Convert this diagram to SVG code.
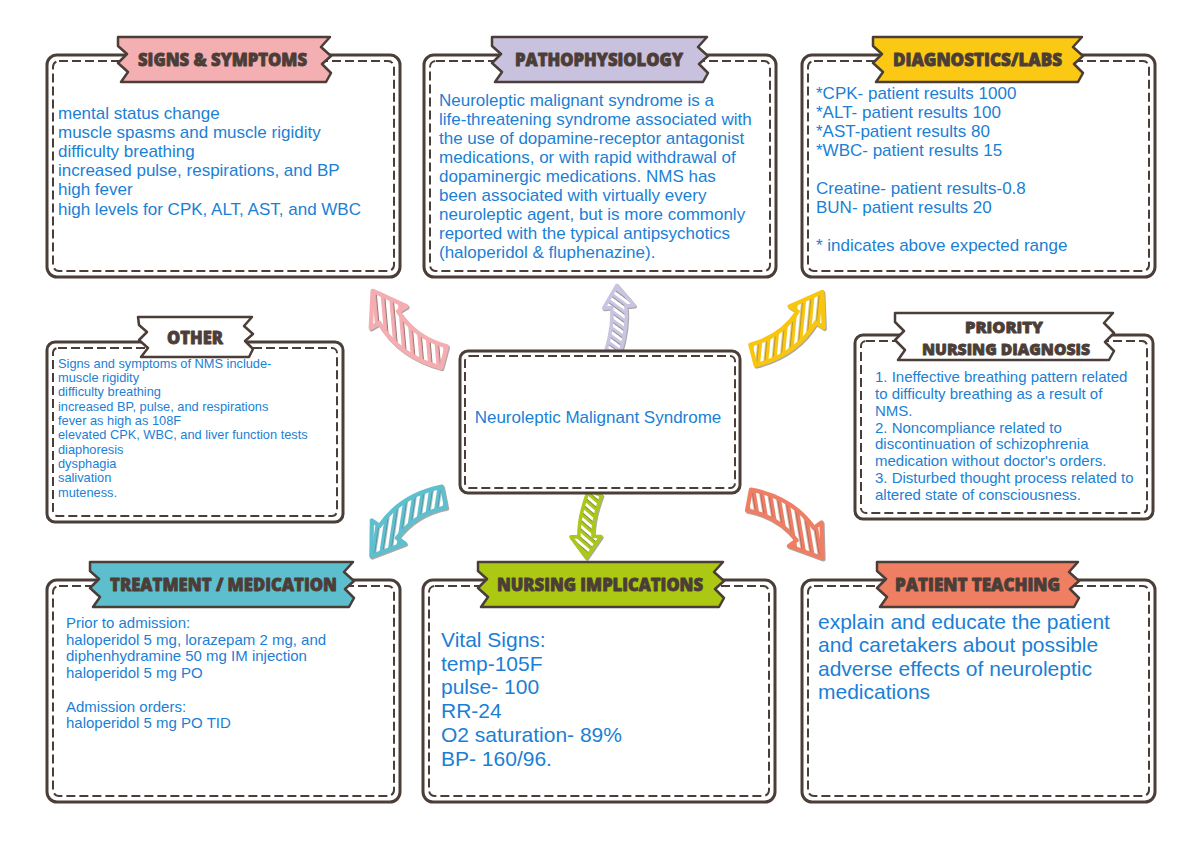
<svg xmlns="http://www.w3.org/2000/svg" xmlns:xlink="http://www.w3.org/1999/xlink" width="1200" height="849" viewBox="0 0 1200 849">
<style>
.bo{fill:#fff;stroke:#4b3d37;stroke-width:3}
.bi{fill:none;stroke:#4b3d37;stroke-width:2;stroke-dasharray:9 4}
.bn{stroke:#4b3d37;stroke-width:2.5;stroke-linejoin:round}
.bt{font-family:"Open Sans",Lato,"Liberation Sans",sans-serif;font-weight:800;font-size:17px;fill:#4b3d37;stroke:#4b3d37;stroke-width:0.8;stroke-linejoin:round}
.bt16{font-size:16px}
.tx{font-family:"Liberation Sans",Arial,sans-serif;fill:#1b7fd5}
.s17{font-size:17px}.s13{font-size:12.8px}.s15{font-size:15px}.s21{font-size:21px}
.sh{fill:#4b3d37;stroke:#4b3d37;stroke-width:4;stroke-linejoin:round;opacity:.45}
.ht{fill:url(#hatch)}
</style>
<defs>
<pattern id="hatch" patternUnits="userSpaceOnUse" width="7.5" height="8" patternTransform="rotate(20)">
<rect x="0" y="0" width="3.4" height="8" fill="#fff"/>
<rect x="3.4" y="0" width="0.9" height="8" fill="#4b3d37" opacity="0.55"/>
</pattern>
<path id="arrA" d="M0,10 Q40,10 64.9,-14.8 L71.1,-8.3 L78.2,-41.3 L44.9,-35.7 L51.1,-29.2 Q30,-10 0,-10 Z"/>
<path id="arrB" d="M0,8 Q32,8 53,-0.6 L56.3,7.8 L72.3,-16.9 L43.7,-23.8 L47,-15.4 Q28,-8 0,-8 Z"/>
</defs>
<rect width="1200" height="849" fill="#fff"/>

<g id="connectors">
<g id="arrow-pink">
<g transform="translate(1,1.3)"><use href="#arrA" class="sh" transform="translate(444,357) rotate(195) scale(1.1,-1.1)"/></g>
<g transform="translate(444,357) rotate(195) scale(1.1,-1.1)"><use href="#arrA" fill="#f4aeb1"/><use href="#arrA" class="ht"/><use href="#arrA" fill="none" stroke="#f4aeb1" stroke-width="4" stroke-linejoin="round"/></g>
</g>
<g id="arrow-lavender">
<g transform="translate(1,1.3)"><use href="#arrB" class="sh" transform="translate(613,352) rotate(-73.5) scale(0.9)"/></g>
<g transform="translate(613,352) rotate(-73.5) scale(0.9)"><use href="#arrB" fill="#c9c4e0"/><use href="#arrB" class="ht"/><use href="#arrB" fill="none" stroke="#c9c4e0" stroke-width="4" stroke-linejoin="round"/></g>
</g>
<g id="arrow-yellow">
<g transform="translate(1,1.3)"><use href="#arrA" class="sh" transform="translate(753,355) rotate(-14.5) scale(1.06)"/></g>
<g transform="translate(753,355) rotate(-14.5) scale(1.06)"><use href="#arrA" fill="#f8c60f"/><use href="#arrA" class="ht"/><use href="#arrA" fill="none" stroke="#f8c60f" stroke-width="4" stroke-linejoin="round"/></g>
</g>
<g id="arrow-teal">
<g transform="translate(1,1.3)"><use href="#arrA" class="sh" transform="translate(444,497) rotate(168.6) scale(1.06)"/></g>
<g transform="translate(444,497) rotate(168.6) scale(1.06)"><use href="#arrA" fill="#5ebfce"/><use href="#arrA" class="ht"/><use href="#arrA" fill="none" stroke="#5ebfce" stroke-width="4" stroke-linejoin="round"/></g>
</g>
<g id="arrow-green">
<g transform="translate(1,1.3)"><use href="#arrB" class="sh" transform="translate(595,493) rotate(110.8) scale(0.88)"/></g>
<g transform="translate(595,493) rotate(110.8) scale(0.88)"><use href="#arrB" fill="#a9c81a"/><use href="#arrB" class="ht"/><use href="#arrB" fill="none" stroke="#a9c81a" stroke-width="4" stroke-linejoin="round"/></g>
</g>
<g id="arrow-salmon">
<g transform="translate(1,1.3)"><use href="#arrA" class="sh" transform="translate(749,500) rotate(10.5) scale(1.06,-1.06)"/></g>
<g transform="translate(749,500) rotate(10.5) scale(1.06,-1.06)"><use href="#arrA" fill="#ee7f64"/><use href="#arrA" class="ht"/><use href="#arrA" fill="none" stroke="#ee7f64" stroke-width="4" stroke-linejoin="round"/></g>
</g>
</g>

<g id="signs-symptoms">
<rect class="bo" x="47" y="55" width="353" height="222" rx="10"/>
<rect class="bi" x="53" y="61" width="341" height="210" rx="6"/>
<path class="bn" fill="#f4afb2" d="M118,37 h212 l-9,10 l10,9 l-9,8 l9,9 l-5,9 h-205 l7,-10 l-10,-9 l9,-9 l-9,-8 z"/>
<text class="bt" x="138" y="66" textLength="169" lengthAdjust="spacingAndGlyphs">SIGNS &amp; SYMPTOMS</text>
<text class="tx s17" x="58" y="118.5"><tspan x="58">mental status change</tspan><tspan x="58" dy="19.2">muscle spasms and muscle rigidity</tspan><tspan x="58" dy="19.2">difficulty breathing</tspan><tspan x="58" dy="19.2">increased pulse, respirations, and BP</tspan><tspan x="58" dy="19.2">high fever</tspan><tspan x="58" dy="19.2">high levels for CPK, ALT, AST, and WBC</tspan></text>
</g>

<g id="pathophysiology">
<rect class="bo" x="424" y="55" width="352" height="222" rx="10"/>
<rect class="bi" x="430" y="61" width="340" height="210" rx="6"/>
<path class="bn" fill="#c8c2de" d="M492,37 h215 l-9,10 l10,9 l-9,8 l9,9 l-5,9 h-208 l7,-10 l-10,-9 l9,-9 l-9,-8 z"/>
<text class="bt" x="515" y="66" textLength="168" lengthAdjust="spacingAndGlyphs">PATHOPHYSIOLOGY</text>
<text class="tx s17" x="439" y="106"><tspan x="439">Neuroleptic malignant syndrome is a</tspan><tspan x="439" dy="19.05">life-threatening syndrome associated with</tspan><tspan x="439" dy="19.05">the use of dopamine-receptor antagonist</tspan><tspan x="439" dy="19.05">medications, or with rapid withdrawal of</tspan><tspan x="439" dy="19.05">dopaminergic medications. NMS has</tspan><tspan x="439" dy="19.05">been associated with virtually every</tspan><tspan x="439" dy="19.05">neuroleptic agent, but is more commonly</tspan><tspan x="439" dy="19.05">reported with the typical antipsychotics</tspan><tspan x="439" dy="19.05">(haloperidol &amp; fluphenazine).</tspan></text>
</g>

<g id="diagnostics-labs">
<rect class="bo" x="802" y="55" width="353" height="222" rx="10"/>
<rect class="bi" x="808" y="61" width="341" height="210" rx="6"/>
<path class="bn" fill="#fbc913" d="M873,37 h209 l-9,10 l10,9 l-9,8 l9,9 l-5,9 h-202 l7,-10 l-10,-9 l9,-9 l-9,-8 z"/>
<text class="bt" x="893" y="66" textLength="169" lengthAdjust="spacingAndGlyphs">DIAGNOSTICS/LABS</text>
<text class="tx s17"><tspan x="816" y="99">*CPK- patient results 1000</tspan><tspan x="816" y="118">*ALT- patient results 100</tspan><tspan x="816" y="137">*AST-patient results 80</tspan><tspan x="816" y="156">*WBC- patient results 15</tspan><tspan x="816" y="194">Creatine- patient results-0.8</tspan><tspan x="816" y="213">BUN- patient results 20</tspan><tspan x="816" y="251">* indicates above expected range</tspan></text>
</g>

<g id="other">
<rect class="bo" x="47" y="342" width="296" height="180" rx="8"/>
<rect class="bi" x="53" y="348" width="284" height="168" rx="5"/>
<path class="bn" fill="#fff" d="M138,317 h114 l-8,9 l9,8 l-8,7 l8,8 l-4,8 h-108 l7,-9 l-9,-8 l8,-8 l-8,-7 z"/>
<text class="bt" x="167" y="344" textLength="56" lengthAdjust="spacingAndGlyphs">OTHER</text>
<text class="tx s13" x="58" y="367.5"><tspan x="58">Signs and symptoms of NMS include-</tspan><tspan x="58" dy="14.35">muscle rigidity</tspan><tspan x="58" dy="14.35">difficulty breathing</tspan><tspan x="58" dy="14.35">increased BP, pulse, and respirations</tspan><tspan x="58" dy="14.35">fever as high as 108F</tspan><tspan x="58" dy="14.35">elevated CPK, WBC, and liver function tests</tspan><tspan x="58" dy="14.35">diaphoresis</tspan><tspan x="58" dy="14.35">dysphagia</tspan><tspan x="58" dy="14.35">salivation</tspan><tspan x="58" dy="14.35">muteness.</tspan></text>
</g>

<g id="center">
<rect class="bo" x="460" y="351" width="280" height="142" rx="8"/>
<rect class="bi" x="465" y="356" width="270" height="132" rx="5"/>
<text class="tx s17" x="598" y="423" text-anchor="middle">Neuroleptic Malignant Syndrome</text>
</g>

<g id="priority-nursing-diagnosis">
<rect class="bo" x="855" y="335" width="298" height="184" rx="8"/>
<rect class="bi" x="861" y="341" width="286" height="172" rx="5"/>
<path class="bn" fill="#fff" d="M895,313 h218 l-9,10 l10,10 l-9,9 l9,9 l-5,9 h-211 l7,-10 l-10,-10 l9,-9 l-9,-9 z"/>
<text class="bt bt16" x="965" y="332.5" textLength="78" lengthAdjust="spacingAndGlyphs">PRIORITY</text>
<text class="bt bt16" x="922" y="355" textLength="168" lengthAdjust="spacingAndGlyphs">NURSING DIAGNOSIS</text>
<text class="tx s15" x="875" y="382"><tspan x="875">1. Ineffective breathing pattern related</tspan><tspan x="875" dy="16.85">to difficulty breathing as a result of</tspan><tspan x="875" dy="16.85">NMS.</tspan><tspan x="875" dy="16.85">2. Noncompliance related to</tspan><tspan x="875" dy="16.85">discontinuation of schizophrenia</tspan><tspan x="875" dy="16.85">medication without doctor's orders.</tspan><tspan x="875" dy="16.85">3. Disturbed thought process related to</tspan><tspan x="875" dy="16.85">altered state of consciousness.</tspan></text>
</g>

<g id="treatment-medication">
<rect class="bo" x="47" y="580" width="353" height="222" rx="10"/>
<rect class="bi" x="53" y="586" width="341" height="210" rx="6"/>
<path class="bn" fill="#5dbfcd" d="M90,562 h263 l-9,10 l10,9 l-9,8 l9,9 l-5,9 h-256 l7,-10 l-10,-9 l9,-9 l-9,-8 z"/>
<text class="bt" x="110" y="591" textLength="227" lengthAdjust="spacingAndGlyphs">TREATMENT / MEDICATION</text>
<text class="tx s15"><tspan x="66" y="628">Prior to admission:</tspan><tspan x="66" y="644.7">haloperidol 5 mg, lorazepam 2 mg, and</tspan><tspan x="66" y="661.4">diphenhydramine 50 mg IM injection</tspan><tspan x="66" y="678.1">haloperidol 5 mg PO</tspan><tspan x="66" y="711.5">Admission orders:</tspan><tspan x="66" y="728.2">haloperidol 5 mg PO TID</tspan></text>
</g>

<g id="nursing-implications">
<rect class="bo" x="423" y="580" width="352" height="222" rx="10"/>
<rect class="bi" x="429" y="586" width="340" height="210" rx="6"/>
<path class="bn" fill="#acc812" d="M478,562 h245 l-9,10 l10,9 l-9,8 l9,9 l-5,9 h-238 l7,-10 l-10,-9 l9,-9 l-9,-8 z"/>
<text class="bt" x="497" y="591" textLength="206" lengthAdjust="spacingAndGlyphs">NURSING IMPLICATIONS</text>
<text class="tx s21" x="441" y="647"><tspan x="441">Vital Signs:</tspan><tspan x="441" dy="23.7">temp-105F</tspan><tspan x="441" dy="23.7">pulse- 100</tspan><tspan x="441" dy="23.7">RR-24</tspan><tspan x="441" dy="23.7">O2 saturation- 89%</tspan><tspan x="441" dy="23.7">BP- 160/96.</tspan></text>
</g>

<g id="patient-teaching">
<rect class="bo" x="802" y="580" width="353" height="222" rx="10"/>
<rect class="bi" x="808" y="586" width="341" height="210" rx="6"/>
<path class="bn" fill="#ef7f63" d="M877,562 h201 l-9,10 l10,9 l-9,8 l9,9 l-5,9 h-194 l7,-10 l-10,-9 l9,-9 l-9,-8 z"/>
<text class="bt" x="895" y="591" textLength="165" lengthAdjust="spacingAndGlyphs">PATIENT TEACHING</text>
<text class="tx s21" x="818" y="629"><tspan x="818">explain and educate the patient</tspan><tspan x="818" dy="23.4">and caretakers about possible</tspan><tspan x="818" dy="23.4">adverse effects of neuroleptic</tspan><tspan x="818" dy="23.4">medications</tspan></text>
</g>
</svg>
